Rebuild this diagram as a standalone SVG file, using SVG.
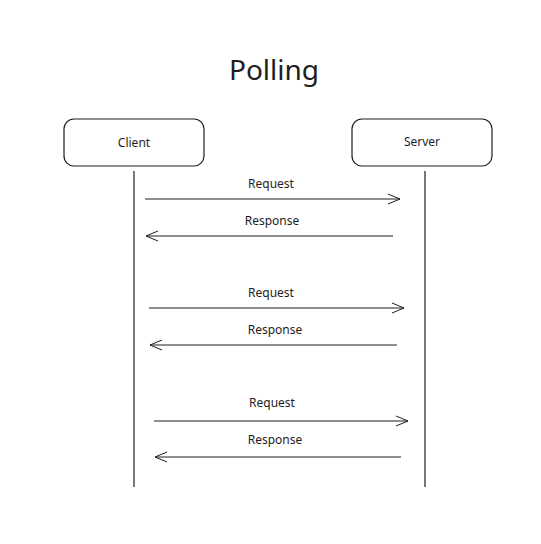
<svg xmlns="http://www.w3.org/2000/svg" width="541" height="544" viewBox="0 0 541 544">
<style>
.box{fill:#ffffff;stroke:#1e1e1e;stroke-width:1.2}
.life{stroke:#1e1e1e;stroke-width:1.2;fill:none}
.msg{stroke:#1e1e1e;stroke-width:1;fill:none}
.lbl{font-family:"Noto Sans","Liberation Sans",sans-serif;font-size:12px;fill:#1e1e1e;text-anchor:middle}
.title{font-family:"Noto Sans","Liberation Sans",sans-serif;font-size:28px;fill:#1e1e1e;text-anchor:middle}
</style>
<defs>
<marker id="arr" viewBox="0 0 14 12" refX="13" refY="6" markerWidth="14" markerHeight="12" markerUnits="userSpaceOnUse" orient="auto">
<path d="M1 1 L13 6 L1 11" fill="none" stroke="#1e1e1e" stroke-width="1"/>
</marker>
</defs>
<rect width="541" height="544" fill="#ffffff"/>
<text class="title" x="274" y="80">Polling</text>
<g id="client">
<rect class="box" x="64" y="119" width="140" height="47" rx="10"/>
<text class="lbl" x="134" y="147">Client</text>
</g>
<g id="server">
<rect class="box" x="352" y="119" width="140" height="47" rx="10"/>
<text class="lbl" x="422" y="146">Server</text>
</g>
<g id="connectors">
<line class="life" x1="134" y1="171" x2="134" y2="487"/>
<line class="life" x1="425" y1="171" x2="425" y2="487"/>
<line class="msg" x1="145" y1="199" x2="400" y2="199" marker-end="url(#arr)"/>
<text class="lbl" x="271" y="188">Request</text>
<line class="msg" x1="393" y1="236" x2="146" y2="236" marker-end="url(#arr)"/>
<text class="lbl" x="272" y="225">Response</text>
<line class="msg" x1="149" y1="308" x2="404" y2="308" marker-end="url(#arr)"/>
<text class="lbl" x="271" y="297">Request</text>
<line class="msg" x1="397" y1="345" x2="150" y2="345" marker-end="url(#arr)"/>
<text class="lbl" x="275" y="334">Response</text>
<line class="msg" x1="154" y1="421" x2="408" y2="421" marker-end="url(#arr)"/>
<text class="lbl" x="272" y="407">Request</text>
<line class="msg" x1="401" y1="457" x2="155" y2="457" marker-end="url(#arr)"/>
<text class="lbl" x="275" y="444">Response</text>
</g>
</svg>
